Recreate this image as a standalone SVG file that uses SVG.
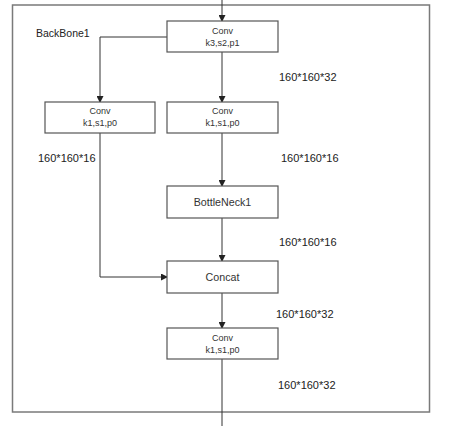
<svg xmlns="http://www.w3.org/2000/svg" width="474" height="426" viewBox="0 0 474 426">
<defs>
<marker id="arr" markerWidth="7" markerHeight="7" refX="6" refY="3.5" orient="auto" markerUnits="userSpaceOnUse">
<path d="M0,0 L7,3.5 L0,7 z" fill="#222"/>
</marker>
<style>
.box{fill:#fff;stroke:#555;stroke-width:1.2}
.ln{fill:none;stroke:#333;stroke-width:1}
.t9{font-family:"Liberation Sans",Arial,sans-serif;font-size:9px;fill:#333;text-anchor:middle}
.t11{font-family:"Liberation Sans",Arial,sans-serif;font-size:10.7px;fill:#333;text-anchor:middle}
.lbl{font-family:"Liberation Sans",Arial,sans-serif;font-size:11px;fill:#222}
</style>
</defs>
<rect width="474" height="426" fill="#fff"/>
<rect x="12.5" y="5" width="417" height="407" fill="none" stroke="#7a7a7a" stroke-width="1.5"/>
<text class="lbl" x="36" y="37" style="font-size:10.5px">BackBone1</text>
<g id="connectors">
<line class="ln" x1="222" y1="0" x2="222" y2="21" marker-end="url(#arr)"/>
<polyline class="ln" points="167,37 100,37 100,102" marker-end="url(#arr)"/>
<line class="ln" x1="222" y1="52" x2="222" y2="102" marker-end="url(#arr)"/>
<line class="ln" x1="222" y1="133" x2="222" y2="186" marker-end="url(#arr)"/>
<polyline class="ln" points="100,133 100,277 167,277" marker-end="url(#arr)"/>
<line class="ln" x1="222" y1="218" x2="222" y2="261" marker-end="url(#arr)"/>
<line class="ln" x1="222" y1="293" x2="222" y2="328" marker-end="url(#arr)"/>
<line class="ln" x1="222" y1="359" x2="222" y2="426"/>
</g>
<g id="conv0">
<rect class="box" x="167" y="21" width="111" height="31"/>
<text class="t9" x="222.5" y="34">Conv</text>
<text class="t9" x="222.5" y="46">k3,s2,p1</text>
</g>
<g id="convL">
<rect class="box" x="45" y="102" width="110" height="31"/>
<text class="t9" x="100" y="114">Conv</text>
<text class="t9" x="100" y="126">k1,s1,p0</text>
</g>
<g id="convR">
<rect class="box" x="167" y="102" width="111" height="31"/>
<text class="t9" x="222.5" y="114">Conv</text>
<text class="t9" x="222.5" y="126">k1,s1,p0</text>
</g>
<g id="bottleneck">
<rect class="box" x="167" y="186" width="111" height="32"/>
<text class="t11" x="222.5" y="206">BottleNeck1</text>
</g>
<g id="concat">
<rect class="box" x="167" y="261" width="111" height="32"/>
<text class="t11" x="222.5" y="281">Concat</text>
</g>
<g id="conv2">
<rect class="box" x="167" y="328" width="111" height="31"/>
<text class="t9" x="222.5" y="341">Conv</text>
<text class="t9" x="222.5" y="353">k1,s1,p0</text>
</g>
<g id="labels">
<text class="lbl" x="279" y="81">160*160*32</text>
<text class="lbl" x="38" y="162">160*160*16</text>
<text class="lbl" x="281" y="162">160*160*16</text>
<text class="lbl" x="279" y="246">160*160*16</text>
<text class="lbl" x="276" y="318">160*160*32</text>
<text class="lbl" x="278" y="389">160*160*32</text>
</g>
</svg>
